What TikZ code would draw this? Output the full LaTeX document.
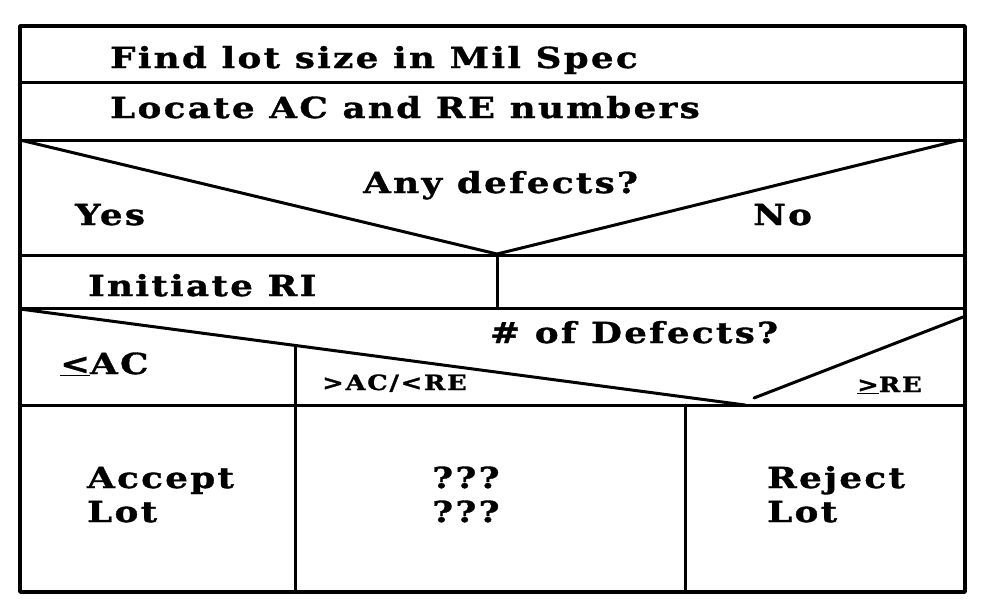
\documentclass[tikz,border=0pt]{standalone}
\usepackage{fontspec}
\newfontfamily\tf{DejaVu Serif Bold}[LetterSpace=8,FakeStretch=1.23,FakeBold=1.2]
\begin{document}
\begin{tikzpicture}[x=1pt,y=-1pt,
  rule/.style={line width=3pt, line cap=round, line join=round},
  big/.style={anchor=base west, inner sep=0pt, font=\tf\fontsize{29}{34}\selectfont},
  small/.style={anchor=base west, inner sep=0pt, font=\tf\fontsize{21}{24}\selectfont},
  two/.style={anchor=base west, inner sep=0pt, align=left, font=\tf\fontsize{29}{34}\selectfont}]
\useasboundingbox (0,0) rectangle (1000,606);
% frame coordinates
\coordinate (tl) at (20,26);
\coordinate (br) at (965,592);
\coordinate (apex) at (497,254);
\coordinate (d2s) at (20,309);
\coordinate (d2e) at (745,405);
\coordinate (d3s) at (754,398);
\coordinate (d3e) at (963,317);
\draw[rule, line width=3.5pt] (tl) rectangle (br);
\foreach \yy in {82,140,255,308,405} \draw[rule] (20,\yy) -- (965,\yy);
\draw[rule] (20,140) -- (apex) -- (960,140);
\draw[rule] (497,255) -- (497,308);
\draw[rule] (d2s) -- (d2e);
\draw[rule] (295,345.5) -- (295,592);
\draw[rule] (d3s) -- (d3e);
\draw[rule] (685,405) -- (685,592);
% texts
\node[big] (t1) at (110,68) {Find lot size in Mil Spec};
\node[big] (t2) at (110,118) {Locate AC and RE numbers};
\node[big] (t3) at (363,193) {Any defects?};
\node[big] (yes) at (75,225) {Yes};
\node[big] (no) at (753,225) {No};
\node[big] (ri) at (88,296) {Initiate RI};
\node[big] (nd) at (490,343) {\# of Defects?};
\node[big] (le) at (60,374) {\underline{<}AC};
\node[small] (mid) at (322,390) {>AC/<RE};
\node[small] (ge) at (857,392) {\underline{>}RE};
\node[two] (acc) at (87,522) {Accept\\Lot};
\node[two] (qq) at (432,522) {???\\???};
\node[two] (rej) at (767,522) {Reject\\Lot};
\end{tikzpicture}
\end{document}
